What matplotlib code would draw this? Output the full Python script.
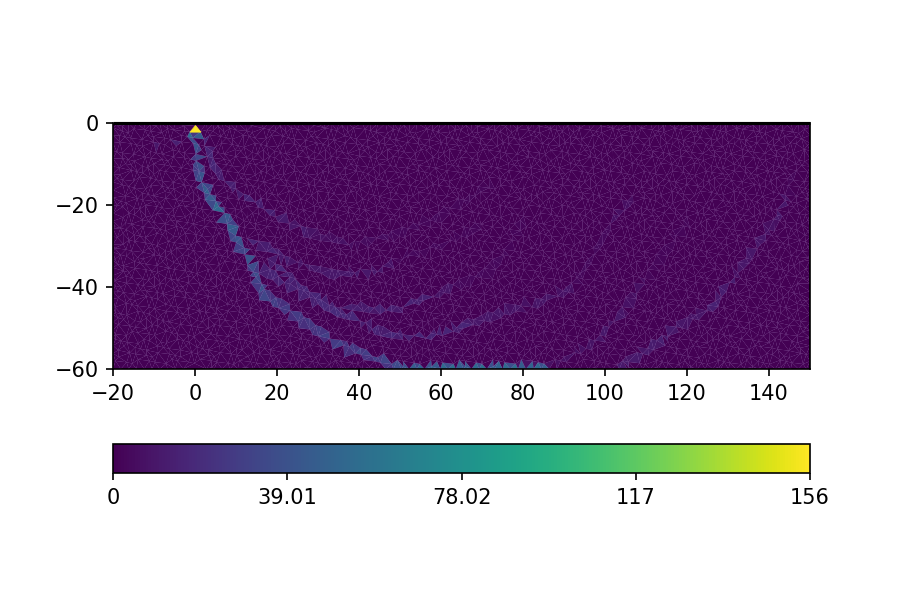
import numpy as np
import matplotlib
matplotlib.use('Agg')
import matplotlib.pyplot as plt
import matplotlib.tri as mtri
from matplotlib.cm import ScalarMappable
from matplotlib.colors import Normalize

# wave fronts: (x, depth) along each arc, level per segment
arc_a_x = [-1, 0.5, 1, 2, 5, 8, 10, 13, 17, 26, 35, 46, 50]
arc_a_y = [-3, -7, -12, -15, -20, -24, -28, -33, -42, -48, -54, -58, -59.5]
arc_a_levels = [42, 42, 48, 50, 55, 50, 45, 40, 32, 30, 32, 36]

floor_x = [50, 57, 85]
floor_y = [-59.6, -59.6, -59.6]
floor_levels = [50, 58]

arc_b_x = [2.5, 5, 9.7, 18, 28, 38, 47.5, 60, 72]
arc_b_y = [-4, -11.5, -16, -21.7, -27, -29.5, -27.5, -22.5, -15]
arc_b_levels = [18, 14, 16, 12, 7, 5, 4, 3]

arc_c_x = [13, 16.6, 22.4, 33.7, 45, 48, 62, 70]
arc_c_y = [-28, -30, -33, -37, -36, -33.4, -29, -25]
arc_c_levels = [18, 16, 11, 12, 11, 4, 3]

arc_d_x = [18, 26, 34, 48, 57, 63, 72, 76, 80]
arc_d_y = [-33, -40, -45, -45.5, -42.5, -40, -36, -31, -24]
arc_d_levels = [18, 18, 15, 16, 10, 4, 4, 3]

arc_e_x = [17, 34, 40, 46, 57, 67, 74, 86, 92, 102, 106]
arc_e_y = [-36, -46, -48, -51.5, -52, -49, -46.5, -43, -40, -24, -19]
arc_e_levels = [20, 20, 17, 18, 17, 11, 10, 10, 4, 8]

arc_f_x = [76, 90, 98, 104, 110, 120]
arc_f_y = [-59.5, -58, -53, -46.5, -38, -24]
arc_f_levels = [8, 8, 11, 8, 3]

arc_g_x = [104, 111, 117, 126, 131, 137, 142, 144, 146]
arc_g_y = [-59, -55, -50, -45, -38.5, -29.5, -23, -18, -12]
arc_g_levels = [14, 15, 11, 15, 10, 10, 12, 3]

# arc, levels, how far from the arc a cell still gets lit
arcs = [
    (arc_a_x, arc_a_y, arc_a_levels, 0.95),
    (arc_b_x, arc_b_y, arc_b_levels, 0.7),
    (arc_c_x, arc_c_y, arc_c_levels, 0.7),
    (arc_d_x, arc_d_y, arc_d_levels, 0.7),
    (arc_e_x, arc_e_y, arc_e_levels, 0.7),
    (arc_f_x, arc_f_y, arc_f_levels, 0.7),
    (arc_g_x, arc_g_y, arc_g_levels, 0.7),
    (floor_x, floor_y, floor_levels, 0.7),
]

# the yellow cell at the source, and a few single cells beside it
source_x = [-1.3, 1.3, 0]
source_y = [-2.1, -2.1, -0.5]
source_value = 156

hot_x = [-1, 1.5, -5, -9]
hot_y = [-3.2, -3, -5, -5.5]
hot_values = [55, 45, 14, 10]

vmin = 0
vmax = 156
colorbar_ticks = [0, 39.01, 78.02, 117, 156]
colorbar_labels = ['0', '39.01', '78.02', '117', '156']

# the mesh: a shaken lattice, the shake is a fixed golden ratio sequence
step = 1.9
xs = np.arange(-20, 150 + step, step)
ys = np.arange(-60, 0 + step, step * 0.9)
gx, gy = np.meshgrid(xs, ys)
gx = gx.ravel() + (np.floor((gy.ravel() + 60) / (step * 0.9)) % 2) * step / 2
gy = gy.ravel()
n = np.arange(gx.size)
gx = gx + ((n * 0.6180339887) % 1 - 0.5) * step * 0.7
gy = gy + ((n * 0.7548776662) % 1 - 0.5) * step * 0.7
keep = (gx > -19.6) & (gx < 149.6) & (gy > -59.6) & (gy < -0.4)
keep &= np.hypot(gx, gy + 1.3) > 1.9
edge_x = np.arange(-20, 150.1, step)
edge_x = edge_x[np.abs(edge_x) > 1.2]
edge_y = np.arange(-60, 0.1, step)
node_x = np.concatenate([gx[keep], edge_x, edge_x, np.full(edge_y.size, -20.0), np.full(edge_y.size, 150.0),
                         [-20, 150, -20, 150], source_x])
node_y = np.concatenate([gy[keep], np.full(edge_x.size, -60.0), np.full(edge_x.size, 0.0), edge_y, edge_y,
                         [0, 0, -60, -60], source_y])
tri = mtri.Triangulation(node_x, node_y)

cx = node_x[tri.triangles].mean(axis=1)
cy = node_y[tri.triangles].mean(axis=1)
cells = np.zeros(cx.size)


def paint_arc(arc_x, arc_y, levels, reach):
    for i in range(len(arc_x) - 1):
        dx = arc_x[i + 1] - arc_x[i]
        dy = arc_y[i + 1] - arc_y[i]
        t = ((cx - arc_x[i]) * dx + (cy - arc_y[i]) * dy) / (dx * dx + dy * dy)
        t = np.clip(t, 0, 1)
        d = np.hypot(cx - arc_x[i] - t * dx, cy - arc_y[i] - t * dy)
        near = d < reach
        cells[near] = np.maximum(cells[near], levels[i] * (1 - 0.4 * d[near] / reach))


for arc_x, arc_y, levels, reach in arcs:
    paint_arc(arc_x, arc_y, levels, reach)

finder = tri.get_trifinder()
for x, y, v in zip(hot_x, hot_y, hot_values):
    cells[finder(x, y)] = v

fig = plt.figure(figsize=(6, 4), dpi=150)
ax = fig.add_axes([0.1256, 0.385, 0.7744, 0.41])
ax.set_facecolor('#b090cc')  # shows through the seams between cells
ax.tripcolor(tri, facecolors=cells, cmap='viridis', vmin=vmin, vmax=vmax,
             edgecolors='none', antialiased=True)
# source cell on its own so no seam dulls the yellow
ax.tripcolor(mtri.Triangulation(source_x, source_y), facecolors=[source_value], cmap='viridis',
             vmin=vmin, vmax=vmax, edgecolors='face', linewidth=0.4)
ax.set_xlim(-20, 150)
ax.set_ylim(-60, 0)
ax.set_xticks(np.arange(-20, 141, 20))
ax.set_yticks([0, -20, -40, -60])
ax.spines['top'].set_linewidth(1.5)
ax.spines['top'].set_capstyle('butt')

cax = fig.add_axes([0.1256, 0.2117, 0.7744, 0.0483])
cbar = fig.colorbar(ScalarMappable(Normalize(vmin, vmax), cmap='viridis'),
                    cax=cax, orientation='horizontal')
cbar.set_ticks(colorbar_ticks)
cbar.set_ticklabels(colorbar_labels)

fig.savefig('out.png', dpi=150)
plt.close(fig)
